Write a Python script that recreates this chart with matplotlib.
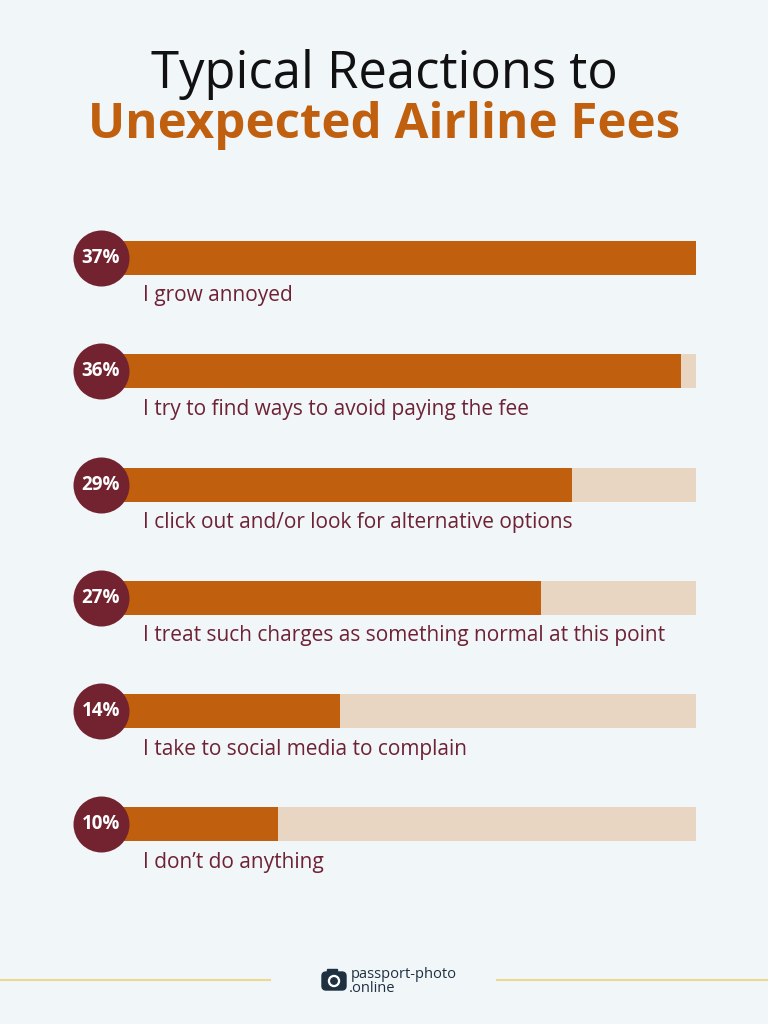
import matplotlib
matplotlib.use("Agg")
import matplotlib.pyplot as plt
from matplotlib.patches import FancyBboxPatch, Circle, Rectangle

plt.rcParams['font.family'] = ['Open Sans', 'DejaVu Sans']

# ---- data ----
labels = [
    "I grow annoyed",
    "I try to find ways to avoid paying the fee",
    "I click out and/or look for alternative options",
    "I treat such charges as something normal at this point",
    "I take to social media to complain",
    "I don\u2019t do anything",
]
values = [37, 36, 29, 27, 14, 10]
track_max = 37

BG = '#f1f6f9'
ORANGE = '#c05f0e'
TRACK = '#e8d6c3'
MAROON = '#73222f'
LABEL_C = '#6e2234'

W, H = 768, 1024
fig = plt.figure(figsize=(W / 100, H / 100), dpi=100, facecolor=BG)

# overlay axes in pixel coordinates for titles and footer
over = fig.add_axes([0, 0, 1, 1], zorder=0)
over.set_xlim(0, W)
over.set_ylim(H, 0)
over.axis('off')
over.set_facecolor(BG)

over.text(W / 2, 74, "Typical Reactions to", ha='center', va='center',
          fontsize=36.5, color='#111111')
over.text(W / 2, 125, "Unexpected Airline Fees", ha='center', va='center',
          fontsize=35.5, fontweight='bold', color=ORANGE)

# ---- bar axes ----
row_px = 113.3
top_px = 258 - row_px / 2
x0_px, x1_px = 123, 696
ax = fig.add_axes([x0_px / W, 1 - (top_px + 6 * row_px) / H,
                   (x1_px - x0_px) / W, 6 * row_px / H], zorder=2)
ax.set_xlim(0, track_max)
ax.set_ylim(len(values) - 0.5, -0.5)
ax.axis('off')

rows = list(range(len(values)))
bar_h = 34 / row_px
ax.barh(rows, [track_max] * len(values), height=bar_h, color=TRACK, zorder=1)
ax.barh(rows, values, height=bar_h, color=ORANGE, zorder=2)

px_per_unit = (x1_px - x0_px) / track_max
cx = (101 - x0_px) / px_per_unit
ax.scatter([cx] * len(values), rows, s=(56 * 0.72) ** 2, color=MAROON,
           zorder=3, clip_on=False, linewidths=0)
for r, v, lab in zip(rows, values, labels):
    ax.text(cx, r, f"{v}%", ha='center', va='center', color='white',
            fontsize=13.5, fontweight='bold', zorder=4, clip_on=False)
    ax.text((143 - x0_px) / px_per_unit, r + 38 / row_px, lab, ha='left',
            va='center', color=LABEL_C, fontsize=15, zorder=4, clip_on=False)

# ---- footer ----
over.plot([0, 270], [980, 980], color='#ecd890', lw=1.5)
over.plot([497, W], [980, 980], color='#ecd890', lw=1.5)
over.add_patch(FancyBboxPatch((322, 972), 24, 18, boxstyle='round,pad=0,rounding_size=4',
                              color='#1f3040', zorder=3))
over.add_patch(Rectangle((327, 968.5), 10, 4.5, color='#1f3040', zorder=3))
over.add_patch(Circle((334, 981), 5.5, color='white', zorder=4))
over.add_patch(Circle((334, 981), 3.2, color='#1f3040', zorder=5))
over.text(351, 975, "passport-photo", ha='left', va='center', fontsize=10.5,
          color='#1f3040')
over.text(349, 988, ".online", ha='left', va='center', fontsize=10.5,
          color='#1f3040')

fig.savefig("out.png", dpi=100, facecolor=BG)
